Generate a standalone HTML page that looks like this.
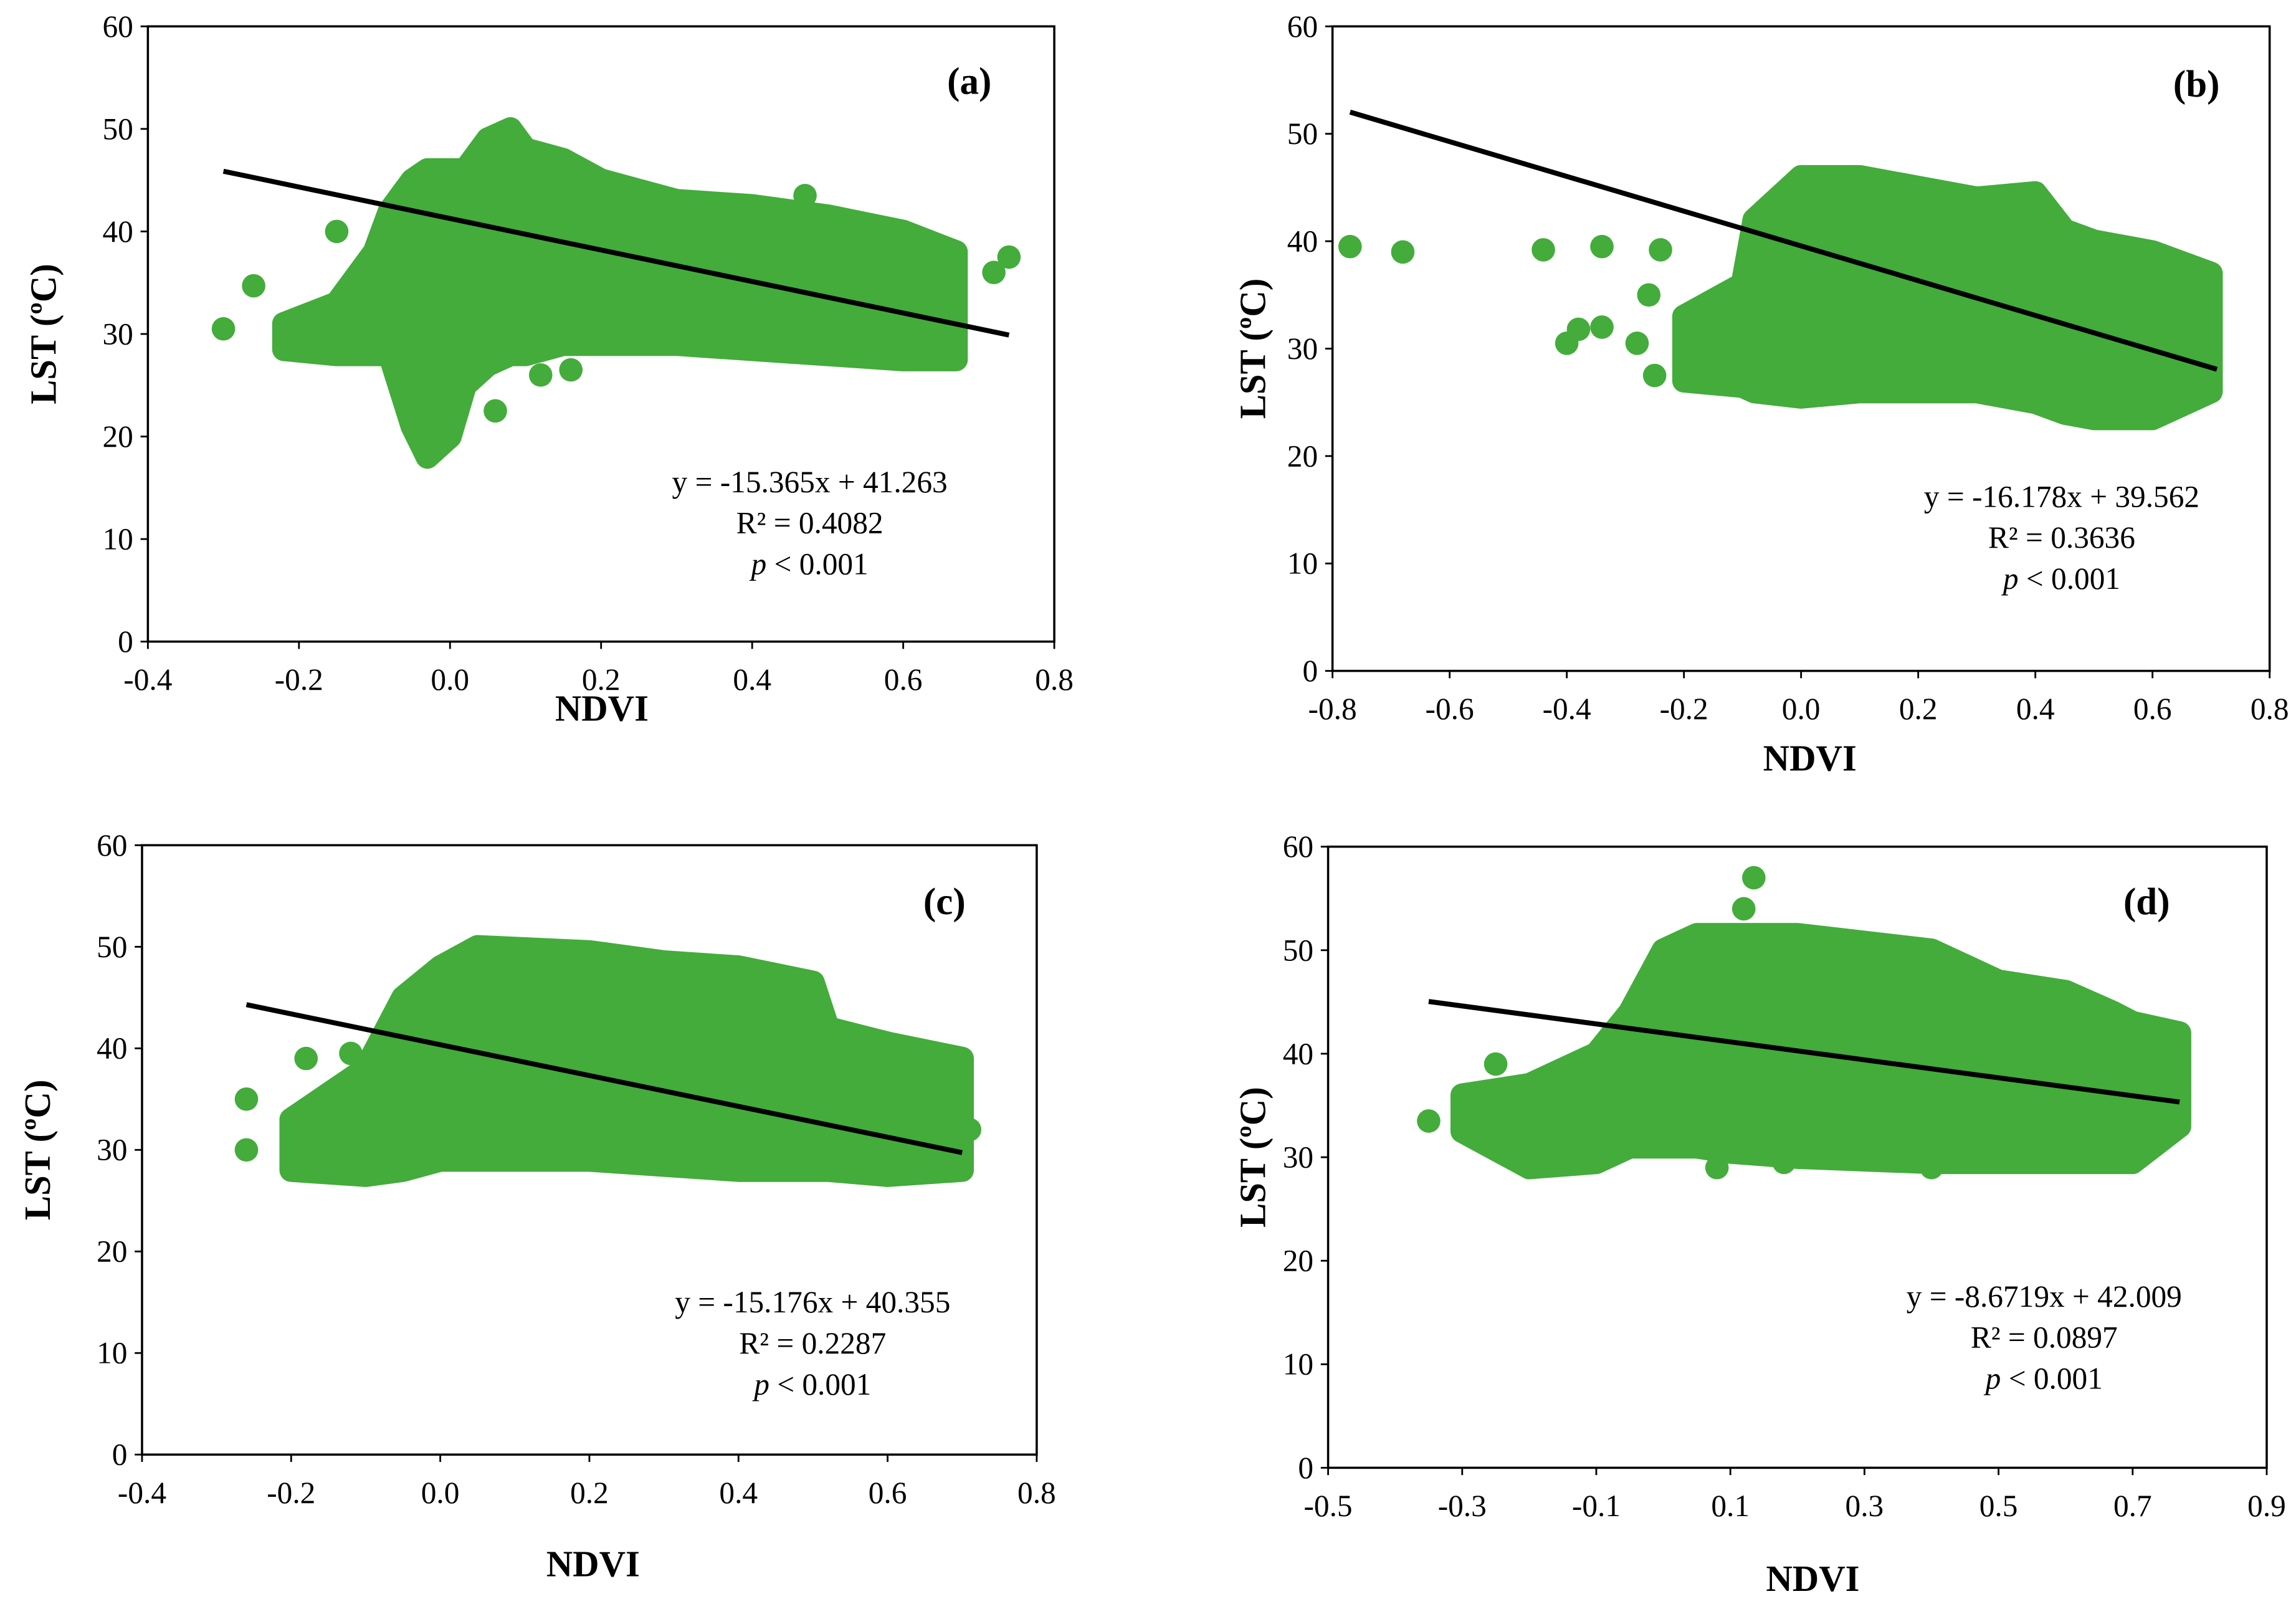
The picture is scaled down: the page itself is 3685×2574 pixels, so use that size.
<!DOCTYPE html>
<html><head><meta charset="utf-8"><style>
html,body{margin:0;padding:0;background:#fff}
svg{display:block}
text{font-family:"Liberation Serif",serif;fill:#000}
</style></head><body>
<svg id="fig" width="3685" height="2574" viewBox="0 0 1568 1095" preserveAspectRatio="none" xmlns="http://www.w3.org/2000/svg"></svg>
<script>
// ---- data ----
const aBinX=[-0.22,-0.15,-0.1,-0.08,-0.05,-0.03,0.0,0.02,0.05,0.08,0.1,0.15,0.2,0.3,0.4,0.5,0.6,0.67];
const aUpper=[31,33,38,42,45,46,46,46,49,50,48,47,45,43,42.5,41.5,40,38];
const aLower=[28.5,28,28,28,21,18,20,25,27,28,28,29,29,29,28.5,28,27.5,27.5];
const aOutX=[-0.3,-0.26,-0.15,-0.12,0.06,0.12,0.16,0.72,0.74,0.47];
const aOutY=[30.5,34.7,40,36,22.5,26,26.5,36,37.5,43.5];

const bBinX=[-0.2,-0.1,-0.08,0.0,0.1,0.2,0.3,0.4,0.45,0.5,0.6,0.7];
const bUpper=[33,36,42,46,46,45,44,44.5,41,40,39,37];
const bLower=[27,26.5,26,25.5,26,26,26,25,24,23.5,23.5,26];
const bOutX=[-0.77,-0.68,-0.44,-0.34,-0.24,-0.4,-0.38,-0.34,-0.28,-0.26,-0.25];
const bOutY=[39.5,39,39.2,39.5,39.2,30.5,31.8,32,30.5,35,27.5];

const cBinX=[-0.2,-0.1,-0.05,0.0,0.05,0.2,0.3,0.4,0.5,0.52,0.6,0.7];
const cUpper=[33,38,45,48,50,49.5,48.5,48,46.5,42,40.5,39];
const cLower=[28,27.5,28,29,29,29,28.5,28,28,28,27.5,28];
const cOutX=[-0.26,-0.26,-0.18,-0.12,0.71];
const cOutY=[35,30,39,39.5,32];

const dBinX=[-0.3,-0.2,-0.1,-0.05,0.0,0.05,0.1,0.2,0.4,0.5,0.6,0.67,0.7,0.77];
const dUpper=[36,37,40,44,50,51.5,51.5,51.5,50,47,46,44,43,42];
const dLower=[32.5,29,29.5,31,31,31,30.5,30,29.5,29.5,29.5,29.5,29.5,33];
const dOutX=[-0.35,-0.3,-0.25,0.12,0.135,0.08,0.18,0.4];
const dOutY=[33.5,33,39,54,57,29,29.5,29];

const slopes=[-15.365,-16.178,-15.176,-8.6719];
const intercepts=[41.263,39.562,40.355,42.009];
const lineX0=[-0.3,-0.77,-0.26,-0.35];
const lineX1=[0.74,0.71,0.7,0.77];
const yTicks=[0,10,20,30,40,50,60];
const xTicksA=["-0.4","-0.2","0.0","0.2","0.4","0.6","0.8"];
const xTicksB=["-0.8","-0.6","-0.4","-0.2","0.0","0.2","0.4","0.6","0.8"];
const xTicksD=["-0.5","-0.3","-0.1","0.1","0.3","0.5","0.7","0.9"];
const eqs=[["y = -15.365x + 41.263","R² = 0.4082"],["y = -16.178x  + 39.562","R² = 0.3636"],["y = -15.176x + 40.355","R² = 0.2287"],["y = -8.6719x + 42.009","R² = 0.0897"]];
const tags=["(a)","(b)","(c)","(d)"];

// ---- layout ----
const NS="http://www.w3.org/2000/svg";
const svg=document.getElementById('fig');
const GREEN="#43ac3b";
function mk(tag,attrs,parent){const e=document.createElementNS(NS,tag);for(const k in attrs)e.setAttribute(k,attrs[k]);(parent||svg).appendChild(e);return e;}

const panels=[
 {L:101,T:18,R:720,B:438,xmin:-0.4,xmax:0.8,ticks:xTicksA,bx:aBinX,up:aUpper,lo:aLower,ox:aOutX,oy:aOutY,tag:[662,64],eq:[553,336],lst:[38,228],ndvi:[411,492]},
 {L:910,T:18,R:1550,B:458,xmin:-0.8,xmax:0.8,ticks:xTicksB,bx:bBinX,up:bUpper,lo:bLower,ox:bOutX,oy:bOutY,tag:[1500,66],eq:[1408,346],lst:[864,238],ndvi:[1236,526]},
 {L:97,T:577,R:708,B:993,xmin:-0.4,xmax:0.8,ticks:xTicksA,bx:cBinX,up:cUpper,lo:cLower,ox:cOutX,oy:cOutY,tag:[645,624],eq:[555,896],lst:[34,785],ndvi:[405,1076]},
 {L:907,T:578,R:1548,B:1002,xmin:-0.5,xmax:0.9,ticks:xTicksD,bx:dBinX,up:dUpper,lo:dLower,ox:dOutX,oy:dOutY,tag:[1466,624],eq:[1396,892],lst:[864,790],ndvi:[1238,1086]}
];

panels.forEach((p,i)=>{
 const g=mk('g',{});
 
 
 const X=v=>p.L+(v-p.xmin)/(p.xmax-p.xmin)*(p.R-p.L);
 const Y=v=>p.B-(v/60)*(p.B-p.T);
 let pts=[];
 p.bx.forEach((x,k)=>pts.push(X(x)+','+Y(p.up[k])));
 for(let k=p.bx.length-1;k>=0;k--)pts.push(X(p.bx[k])+','+Y(p.lo[k]));
 const cl=mk('polygon',{points:pts.join(' '),fill:GREEN,stroke:GREEN,'stroke-width':16,'stroke-linejoin':'round'},g);
 
 
 p.ox.forEach((x,k)=>{
  const c=mk('circle',{cx:X(x),cy:Y(p.oy[k]),r:8,fill:GREEN},g);
  
  
 });
 const ln=mk('line',{x1:X(lineX0[i]),y1:Y(slopes[i]*lineX0[i]+intercepts[i]),x2:X(lineX1[i]),y2:Y(slopes[i]*lineX1[i]+intercepts[i]),stroke:'#000','stroke-width':3.4},g);
 
 
 const fr=mk('rect',{x:p.L,y:p.T,width:p.R-p.L,height:p.B-p.T,fill:'none',stroke:'#000','stroke-width':1.5},g);
 
 
 yTicks.forEach(v=>{
  mk('line',{x1:p.L-5,x2:p.L,y1:Y(v),y2:Y(v),stroke:'#000','stroke-width':1.2},g);
  const t=mk('text',{x:p.L-10,y:Y(v)+7,'font-size':21,'text-anchor':'end'},g);
  t.textContent=v;
  
  
 });
 p.ticks.forEach(s=>{
  const v=parseFloat(s);
  mk('line',{x1:X(v),x2:X(v),y1:p.B,y2:p.B+5,stroke:'#000','stroke-width':1.2},g);
  const t=mk('text',{x:X(v),y:p.B+33,'font-size':21,'text-anchor':'middle'},g);
  t.textContent=s;
  
  
 });
 const tg=mk('text',{x:p.tag[0],y:p.tag[1],'font-size':26,'font-weight':'bold','text-anchor':'middle'},g);
 tg.textContent=tags[i];
 
 
 for(let k=0;k<2;k++){
  const e=mk('text',{x:p.eq[0],y:p.eq[1]+k*28,'font-size':21,'text-anchor':'middle'},g);
  e.textContent=eqs[i][k];
  
  
 }
 const pv=mk('text',{x:p.eq[0],y:p.eq[1]+56,'font-size':21,'text-anchor':'middle'},g);
 pv.innerHTML='<tspan font-style="italic">p</tspan> &lt; 0.001';
 
 
 const yl=mk('text',{x:0,y:0,'font-size':25,'font-weight':'bold','text-anchor':'middle',transform:`translate(${p.lst[0]},${p.lst[1]}) rotate(-90)`},g);
 yl.textContent='LST (ºC)';
 
 
 const xl=mk('text',{x:p.ndvi[0],y:p.ndvi[1],'font-size':25,'font-weight':'bold','text-anchor':'middle'},g);
 xl.textContent='NDVI';
 
 
});
</script>
</body></html>
